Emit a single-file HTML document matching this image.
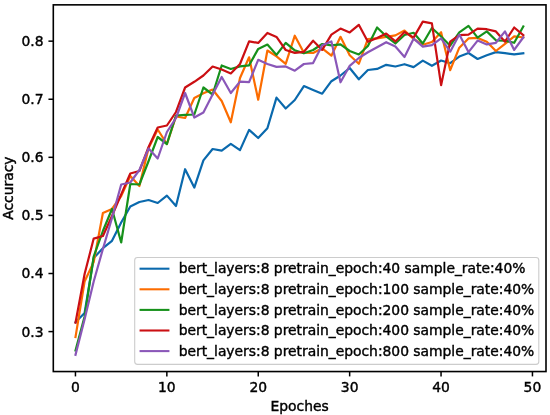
<!DOCTYPE html><html><head><meta charset="utf-8"><style>html,body{margin:0;padding:0;background:#fff;}svg{display:block;}text{font-family:"DejaVu Sans","Liberation Sans",sans-serif;font-size:13.89px;fill:#000;stroke:#000;stroke-width:0.4px;}</style></head><body>
<svg width="550" height="415" viewBox="0 0 550 415">
<rect width="550" height="415" fill="#fff"/>
<defs><clipPath id="c"><rect x="53.30" y="4.85" width="492.70" height="366.70"/></clipPath></defs>
<g clip-path="url(#c)" fill="none" stroke-width="2.2" stroke-linejoin="round" stroke-linecap="square">
<polyline stroke="#0a69ad" points="75.5,322.3 84.6,313.0 93.7,258.0 102.9,248.2 112.0,240.8 121.2,222.5 130.3,206.5 139.4,202.0 148.6,200.0 157.7,203.0 166.9,195.6 176.0,206.0 185.1,169.2 194.3,187.6 203.4,160.4 212.6,149.0 221.7,150.6 230.8,143.8 240.0,150.1 249.1,129.9 258.2,138.0 267.4,128.3 276.5,97.6 285.7,108.5 294.8,100.0 303.9,86.1 313.1,90.0 322.2,93.7 331.4,81.2 340.5,75.5 349.7,68.0 358.8,79.3 367.9,70.0 377.1,68.9 386.2,64.8 395.4,66.5 404.5,64.2 413.6,67.1 422.8,60.6 431.9,65.8 441.1,60.5 450.2,63.2 459.3,56.6 468.5,53.0 477.6,59.0 486.8,55.3 495.9,52.1 505.0,53.2 514.2,54.3 523.3,53.2"/>
<polyline stroke="#fc6c00" points="75.5,337.1 84.6,281.5 93.7,262.0 102.9,213.0 112.0,209.0 121.2,196.0 130.3,176.0 139.4,186.0 148.6,148.0 157.7,129.5 166.9,144.0 176.0,116.5 185.1,118.0 194.3,98.0 203.4,93.2 212.6,89.5 221.7,101.0 230.8,122.3 240.0,78.0 249.1,57.3 258.2,99.7 267.4,50.5 276.5,56.3 285.7,63.8 294.8,35.7 303.9,52.7 313.1,53.0 322.2,48.3 331.4,55.7 340.5,36.8 349.7,55.3 358.8,63.8 367.9,39.0 377.1,38.3 386.2,36.8 395.4,35.4 404.5,30.5 413.6,38.9 422.8,44.8 431.9,42.0 441.1,32.2 450.2,70.2 459.3,47.7 468.5,38.4 477.6,37.9 486.8,41.7 495.9,51.0 505.0,43.9 514.2,36.3 523.3,37.4"/>
<polyline stroke="#16911b" points="75.5,350.5 84.6,316.5 93.7,256.5 102.9,231.0 112.0,209.0 121.2,242.5 130.3,184.0 139.4,184.5 148.6,161.0 157.7,137.0 166.9,144.0 176.0,115.5 185.1,114.8 194.3,114.5 203.4,87.5 212.6,94.5 221.7,65.5 230.8,69.0 240.0,66.4 249.1,65.3 258.2,48.9 267.4,44.5 276.5,54.9 285.7,42.9 294.8,50.4 303.9,53.3 313.1,50.0 322.2,44.0 331.4,45.4 340.5,44.4 349.7,51.0 358.8,54.5 367.9,46.0 377.1,27.5 386.2,36.3 395.4,43.5 404.5,35.0 413.6,32.8 422.8,43.5 431.9,28.0 441.1,36.5 450.2,45.7 459.3,32.4 468.5,25.9 477.6,37.6 486.8,31.4 495.9,40.3 505.0,40.6 514.2,42.8 523.3,26.5"/>
<polyline stroke="#cb0f13" points="75.5,322.7 84.6,274.0 93.7,238.6 102.9,236.0 112.0,216.0 121.2,194.4 130.3,173.5 139.4,171.0 148.6,147.0 157.7,127.5 166.9,125.5 176.0,112.0 185.1,87.5 194.3,81.8 203.4,75.5 212.6,66.5 221.7,69.5 230.8,73.5 240.0,64.0 249.1,41.3 258.2,42.9 267.4,32.9 276.5,36.9 285.7,50.0 294.8,52.9 303.9,51.8 313.1,40.7 322.2,49.9 331.4,34.6 340.5,28.6 349.7,32.4 358.8,24.8 367.9,41.7 377.1,37.9 386.2,33.5 395.4,41.4 404.5,32.0 413.6,37.6 422.8,21.6 431.9,23.4 441.1,85.2 450.2,41.7 459.3,35.2 468.5,34.6 477.6,28.6 486.8,29.2 495.9,31.4 505.0,41.7 514.2,27.5 523.3,35.2"/>
<polyline stroke="#8a57b8" points="75.5,354.8 84.6,319.2 93.7,281.5 102.9,249.0 112.0,218.0 121.2,184.5 130.3,182.5 139.4,170.0 148.6,148.5 157.7,158.5 166.9,132.0 176.0,118.0 185.1,93.0 194.3,117.5 203.4,112.5 212.6,94.6 221.7,77.0 230.8,93.0 240.0,81.6 249.1,82.2 258.2,59.8 267.4,64.0 276.5,66.9 285.7,66.4 294.8,70.7 303.9,64.0 313.1,63.1 322.2,45.3 331.4,41.5 340.5,82.3 349.7,65.8 358.8,58.0 367.9,52.3 377.1,47.3 386.2,42.2 395.4,46.5 404.5,57.0 413.6,38.7 422.8,46.7 431.9,45.2 441.1,38.4 450.2,51.7 459.3,34.6 468.5,52.1 477.6,40.6 486.8,44.4 495.9,42.8 505.0,31.4 514.2,49.9 523.3,37.4"/>
</g>
<rect x="53.30" y="4.85" width="492.70" height="366.70" fill="none" stroke="#000" stroke-width="1.6" stroke-linejoin="miter" stroke-linecap="square"/>
<g stroke="#000" stroke-width="1.5"><line x1="75.45" y1="371.55" x2="75.45" y2="376.41"/><line x1="166.85" y1="371.55" x2="166.85" y2="376.41"/><line x1="258.25" y1="371.55" x2="258.25" y2="376.41"/><line x1="349.65" y1="371.55" x2="349.65" y2="376.41"/><line x1="441.05" y1="371.55" x2="441.05" y2="376.41"/><line x1="532.45" y1="371.55" x2="532.45" y2="376.41"/><line x1="48.44" y1="331.60" x2="53.30" y2="331.60"/><line x1="48.44" y1="273.51" x2="53.30" y2="273.51"/><line x1="48.44" y1="215.42" x2="53.30" y2="215.42"/><line x1="48.44" y1="157.33" x2="53.30" y2="157.33"/><line x1="48.44" y1="99.24" x2="53.30" y2="99.24"/><line x1="48.44" y1="41.15" x2="53.30" y2="41.15"/></g>
<text x="75.45" y="391.70" text-anchor="middle">0</text>
<text x="166.85" y="391.70" text-anchor="middle">10</text>
<text x="258.25" y="391.70" text-anchor="middle">20</text>
<text x="349.65" y="391.70" text-anchor="middle">30</text>
<text x="441.05" y="391.70" text-anchor="middle">40</text>
<text x="532.45" y="391.70" text-anchor="middle">50</text>
<text x="43.60" y="336.55" text-anchor="end">0.3</text>
<text x="43.60" y="278.46" text-anchor="end">0.4</text>
<text x="43.60" y="220.37" text-anchor="end">0.5</text>
<text x="43.60" y="162.28" text-anchor="end">0.6</text>
<text x="43.60" y="104.19" text-anchor="end">0.7</text>
<text x="43.60" y="46.10" text-anchor="end">0.8</text>
<text x="299.65" y="410.70" text-anchor="middle">Epoches</text>
<text transform="translate(13.0,188.20) rotate(-90)" text-anchor="middle">Accuracy</text>
<rect x="134.70" y="257.50" width="404.10" height="106.90" rx="2.8" ry="2.8" fill="#fff" fill-opacity="0.8" stroke="#cccccc" stroke-width="1.11"/>
<line x1="140.6" y1="268.70" x2="168.4" y2="268.70" stroke="#0a69ad" stroke-width="2.08" stroke-linecap="square"/>
<text x="178.7" y="273.30" letter-spacing="-0.015">bert_layers:8 pretrain_epoch:40 sample_rate:40%</text>
<line x1="140.6" y1="289.30" x2="168.4" y2="289.30" stroke="#fc6c00" stroke-width="2.08" stroke-linecap="square"/>
<text x="178.7" y="294.00" letter-spacing="-0.015">bert_layers:8 pretrain_epoch:100 sample_rate:40%</text>
<line x1="140.6" y1="309.90" x2="168.4" y2="309.90" stroke="#16911b" stroke-width="2.08" stroke-linecap="square"/>
<text x="178.7" y="314.70" letter-spacing="-0.015">bert_layers:8 pretrain_epoch:200 sample_rate:40%</text>
<line x1="140.6" y1="330.50" x2="168.4" y2="330.50" stroke="#cb0f13" stroke-width="2.08" stroke-linecap="square"/>
<text x="178.7" y="335.30" letter-spacing="-0.015">bert_layers:8 pretrain_epoch:400 sample_rate:40%</text>
<line x1="140.6" y1="351.10" x2="168.4" y2="351.10" stroke="#8a57b8" stroke-width="2.08" stroke-linecap="square"/>
<text x="178.7" y="356.00" letter-spacing="-0.015">bert_layers:8 pretrain_epoch:800 sample_rate:40%</text>
</svg></body></html>
